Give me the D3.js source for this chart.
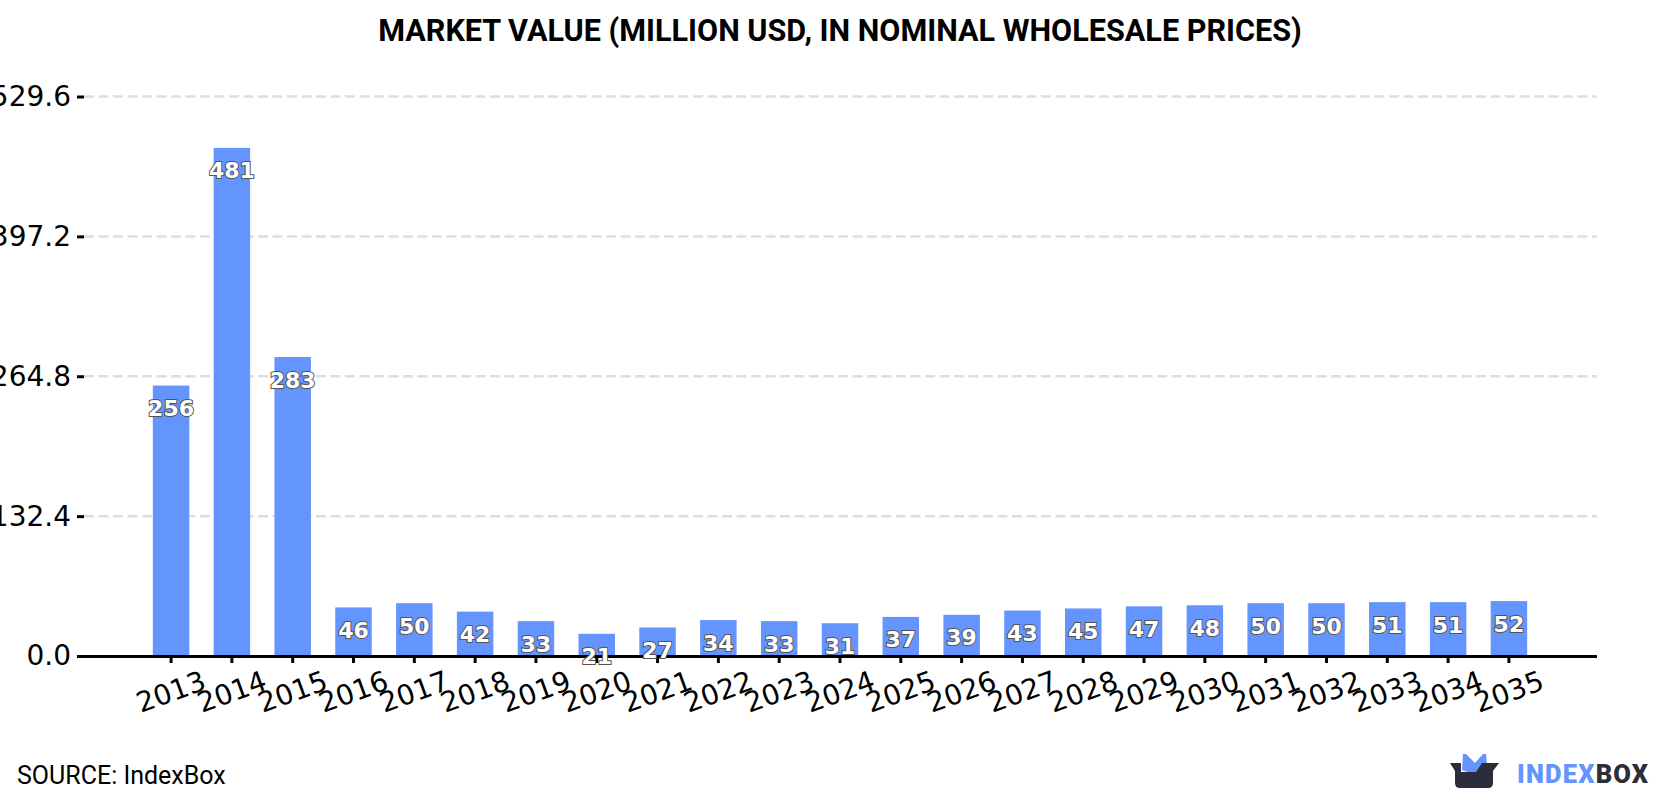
<!DOCTYPE html>
<html>
<head>
<meta charset="utf-8">
<script src="https://cdn.jsdelivr.net/npm/d3@7"></script>
<style>
html,body{margin:0;padding:0;background:#fff;overflow:hidden}
svg{display:block}
</style>
</head>
<body>
<svg id="chart" width="1680" height="800"></svg>
<script>
const years = ["2013","2014","2015","2016","2017","2018","2019","2020","2021","2022","2023","2024","2025","2026","2027","2028","2029","2030","2031","2032","2033","2034","2035"];
const marketValue = [256,481,283,46,50,42,33,21,27,34,33,31,37,39,43,45,47,48,50,50,51,51,52];
const yTicks = [0,132.4,264.8,397.2,529.6];
const chartTitle = "MARKET VALUE (MILLION USD, IN NOMINAL WHOLESALE PRICES)";
const sourceText = "SOURCE: IndexBox";

const svg = d3.select("#chart");
const plot = {left:84, right:1597, top:96.5, bottom:656};
const numFont = "'DejaVu Sans', sans-serif";

const x = d3.scaleBand().domain(years).range([plot.left-0.5, plot.right-0.5]).paddingInner(0.4).paddingOuter(1.14);
const y = d3.scaleLinear().domain([0,529.6]).range([plot.bottom, plot.top]);

// horizontal dashed grid
svg.append("g").selectAll("line").data(yTicks.slice(1)).join("line")
  .attr("x1", plot.left).attr("x2", plot.right)
  .attr("y1", d=>y(d)).attr("y2", d=>y(d))
  .attr("stroke","#dedede").attr("stroke-width",2.5).attr("stroke-dasharray","10,4.5");

// bars
svg.append("g").selectAll("rect").data(marketValue).join("rect")
  .attr("x",(d,i)=>x(years[i])).attr("width",x.bandwidth())
  .attr("y",d=>y(d)).attr("height",d=>y(0)-y(d))
  .attr("fill","#6495ff");

// y axis: ticks and labels only
const yAxis = svg.append("g").attr("transform",`translate(${plot.left},0)`)
  .call(d3.axisLeft(y).tickValues(yTicks).tickFormat(d3.format(".1f")).tickSize(7).tickPadding(6));
yAxis.select(".domain").remove();
yAxis.selectAll(".tick line").attr("stroke","#000").attr("stroke-width",3);
yAxis.selectAll("text").attr("font-family",numFont).attr("font-size",28).attr("fill","#000");

// x axis with slanted year labels
const xAxis = svg.append("g").attr("transform",`translate(0,${plot.bottom})`)
  .call(d3.axisBottom(x).tickSize(7).tickSizeOuter(0));
xAxis.select(".domain").attr("stroke","#000").attr("stroke-width",3);
xAxis.selectAll(".tick line").attr("stroke","#000").attr("stroke-width",3);
xAxis.selectAll("text")
  .attr("font-family",numFont).attr("font-size",28).attr("fill","#000")
  .attr("text-anchor","middle").attr("dy",null).attr("y",null)
  .attr("dominant-baseline","central")
  .attr("transform","translate(0,36) rotate(-20)");

// value labels, white with a grey outline
svg.append("g").selectAll("text").data(marketValue).join("text")
  .attr("x",(d,i)=>x(years[i])+x.bandwidth()/2)
  .attr("y",d=>y(d)+23)
  .attr("text-anchor","middle").attr("dominant-baseline","central")
  .attr("font-family",numFont).attr("font-weight","bold").attr("font-size",22)
  .attr("fill","#fff").attr("stroke","#555").attr("stroke-width",2).attr("paint-order","stroke")
  .text(d=>d);

// heading and attribution
svg.append("text").attr("x",840).attr("y",41).attr("text-anchor","middle")
  .attr("font-family","Roboto").attr("font-weight","bold").attr("font-size",30.6).attr("fill","#000")
  .text(chartTitle);
svg.append("text").attr("x",17).attr("y",784)
  .attr("font-family","Roboto").attr("font-size",25).attr("fill","#000")
  .text(sourceText);

// brand mark
const logo = svg.append("g");
logo.append("path").attr("d","M1462 770 L1463 754 L1466 754 L1475 763 L1483 754 L1486 754 L1487 765 L1484 773 L1470 773 Z").attr("fill","#6495ff");
logo.append("path").attr("d","M1450 763 L1461 763 L1461 772 L1476 772 L1482 763 L1499 763 L1493 771 L1493 783 Q1493 788 1488 788 L1460 788 Q1455 788 1455 783 L1455 771 Z").attr("fill","#2b2d3a");
const brand = svg.append("text").attr("x",1517).attr("y",782.5)
  .attr("font-family","Roboto").attr("font-weight","900").attr("font-size",25.5).attr("letter-spacing",1.2);
brand.append("tspan").attr("fill","#6495ff").text("INDEX");
brand.append("tspan").attr("fill","#2b2d3a").text("BOX");
</script>
</body>
</html>
